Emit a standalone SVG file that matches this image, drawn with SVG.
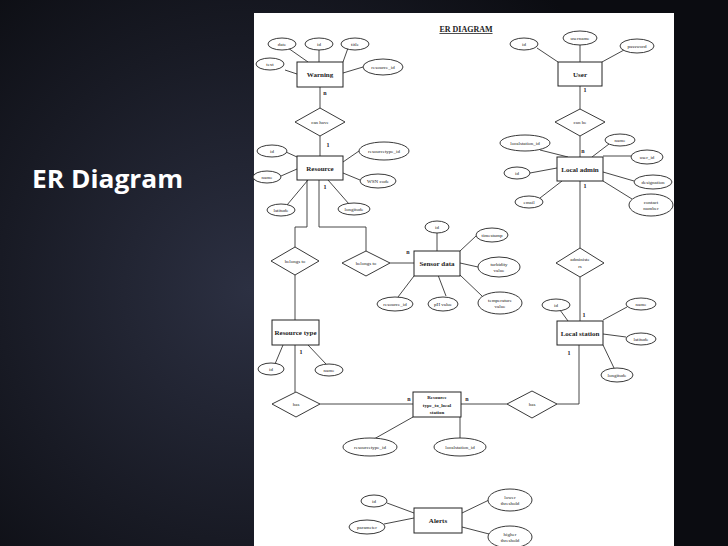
<svg xmlns="http://www.w3.org/2000/svg" width="728" height="546" viewBox="0 0 728 546">
<defs>
<radialGradient id="bg" cx="250" cy="290" r="420" gradientUnits="userSpaceOnUse">
<stop offset="0" stop-color="#2c3042"/>
<stop offset="0.6" stop-color="#181a24"/>
<stop offset="1" stop-color="#0b0c11"/>
</radialGradient>
<style>
.ent{fill:#fff;stroke:#222;stroke-width:1}
.att{fill:#fff;stroke:#222;stroke-width:0.9}
.rel{fill:#fff;stroke:#222;stroke-width:0.9}
.et{font-family:"Liberation Serif",serif;font-weight:bold;font-size:7px;fill:#222;text-anchor:middle}
.at{font-family:"Liberation Serif",serif;font-size:5px;fill:#222;text-anchor:middle}
.ct{font-family:"Liberation Serif",serif;font-weight:bold;font-size:6px;fill:#222;text-anchor:middle}
#connectors line,#connectors polyline{stroke:#333;stroke-width:0.9;fill:none}
</style>
</defs>
<rect x="0" y="0" width="728" height="546" fill="url(#bg)"/>
<text x="32" y="188" font-family="Open Sans, sans-serif" font-weight="bold" font-size="25" fill="#ffffff" textLength="151" lengthAdjust="spacingAndGlyphs">ER Diagram</text>
<rect x="254" y="13" width="420" height="533" fill="#ffffff"/>
<text x="466" y="32" font-family="Liberation Serif, serif" font-weight="bold" font-size="8" fill="#222" text-anchor="middle" text-decoration="underline">ER DIAGRAM</text>

<g id="connectors">
<!-- Warning -->
<line x1="288" y1="48" x2="308" y2="62"/>
<line x1="319" y1="50" x2="319" y2="62"/>
<line x1="348" y1="48" x2="343" y2="62"/>
<line x1="285" y1="70" x2="297" y2="74"/>
<line x1="343" y1="73" x2="363" y2="67"/>
<line x1="320" y1="87" x2="320" y2="108"/>
<line x1="320" y1="136" x2="320" y2="156"/>
<!-- Resource -->
<line x1="286" y1="152" x2="297" y2="157"/>
<line x1="281" y1="176" x2="297" y2="169"/>
<line x1="287" y1="205" x2="308" y2="180"/>
<line x1="349" y1="204" x2="328" y2="180"/>
<line x1="359" y1="151" x2="343" y2="162"/>
<line x1="360" y1="180" x2="343" y2="173"/>
<polyline points="307,180 307,227 295,227 295,247"/>
<polyline points="319,180 319,227 366,227 366,251"/>
<line x1="295" y1="275" x2="295" y2="320"/>
<line x1="390" y1="263" x2="414" y2="263"/>
<!-- Sensor data -->
<line x1="437" y1="232" x2="437" y2="251"/>
<line x1="460" y1="251" x2="476" y2="236"/>
<line x1="460" y1="263" x2="478" y2="267"/>
<line x1="460" y1="275" x2="482" y2="296"/>
<line x1="438" y1="275" x2="446" y2="296"/>
<line x1="414" y1="276" x2="398" y2="297"/>
<!-- Resource type -->
<line x1="283" y1="345" x2="275" y2="364"/>
<line x1="308" y1="345" x2="326" y2="364"/>
<line x1="295" y1="345" x2="295" y2="392"/>
<line x1="320" y1="404" x2="413" y2="404"/>
<line x1="461" y1="404" x2="507" y2="404"/>
<polyline points="557,404 579,404 579,345"/>
<line x1="413" y1="417" x2="374" y2="439"/>
<line x1="460" y1="417" x2="460" y2="438"/>
<!-- Alerts -->
<line x1="387" y1="503" x2="414" y2="513"/>
<line x1="384" y1="524" x2="414" y2="518"/>
<line x1="489" y1="500" x2="462" y2="513"/>
<line x1="489" y1="534" x2="462" y2="527"/>
<!-- User -->
<line x1="537" y1="48" x2="558" y2="62"/>
<line x1="580" y1="45" x2="580" y2="62"/>
<line x1="624" y1="50" x2="602" y2="62"/>
<line x1="580" y1="86" x2="580" y2="109"/>
<line x1="580" y1="136" x2="580" y2="157"/>
<!-- Local admin -->
<line x1="540" y1="150" x2="568" y2="157"/>
<line x1="609" y1="144" x2="592" y2="157"/>
<line x1="631" y1="156" x2="603" y2="156"/>
<line x1="530" y1="173" x2="557" y2="168"/>
<line x1="634" y1="181" x2="603" y2="172"/>
<line x1="540" y1="198" x2="562" y2="181"/>
<line x1="632" y1="199" x2="603" y2="181"/>
<line x1="580" y1="181" x2="580" y2="248"/>
<line x1="580" y1="277" x2="580" y2="321"/>
<!-- Local station -->
<line x1="560" y1="310" x2="568" y2="321"/>
<line x1="627" y1="307" x2="603" y2="320"/>
<line x1="626" y1="337" x2="603" y2="334"/>
<line x1="614" y1="368" x2="603" y2="345"/>
</g>

<g id="warning">
<rect class="ent" x="297" y="62" width="46" height="25"/>
<text class="et" x="320" y="77">Warning</text>
</g>
<g id="warning-date"><ellipse class="att" cx="282" cy="44" rx="14" ry="6"/><text class="at" x="282" y="45.7">date</text></g>
<g id="warning-id"><ellipse class="att" cx="319" cy="44" rx="14" ry="6"/><text class="at" x="319" y="45.7">id</text></g>
<g id="warning-title"><ellipse class="att" cx="355" cy="44" rx="14" ry="6"/><text class="at" x="355" y="45.7">title</text></g>
<g id="warning-text"><ellipse class="att" cx="270" cy="64" rx="14" ry="6"/><text class="at" x="270" y="65.7">text</text></g>
<g id="warning-resource_id"><ellipse class="att" cx="383" cy="67" rx="20" ry="8"/><text class="at" x="383" y="68.7">resource_id</text></g>
<text class="ct" x="325" y="95">n</text>

<g id="can-have"><polygon class="rel" points="320,108 345,122 320,136 295,122"/><text class="at" x="320" y="123.7">can have</text></g>
<text class="ct" x="328" y="147">1</text>

<g id="resource">
<rect class="ent" x="297" y="156" width="46" height="24"/>
<text class="et" x="320" y="170.5">Resource</text>
</g>
<g id="resource-id"><ellipse class="att" cx="272" cy="151" rx="15" ry="6"/><text class="at" x="272" y="152.7">id</text></g>
<g id="resource-name"><ellipse class="att" cx="267" cy="177" rx="14" ry="6"/><text class="at" x="267" y="178.7">name</text></g>
<g id="resource-latitude"><ellipse class="att" cx="281" cy="210" rx="14" ry="6"/><text class="at" x="281" y="211.7">latitude</text></g>
<g id="resource-longitude"><ellipse class="att" cx="354" cy="209" rx="16" ry="6"/><text class="at" x="354" y="210.7">longitude</text></g>
<g id="resource-resourcetype_id"><ellipse class="att" cx="384" cy="151" rx="25" ry="9"/><text class="at" x="384" y="152.7">resourcetype_id</text></g>
<g id="resource-wsn"><ellipse class="att" cx="378" cy="181" rx="18" ry="7"/><text class="at" x="378" y="182.7">WSN code</text></g>
<text class="ct" x="325" y="189">1</text>

<g id="belongs-to-1"><polygon class="rel" points="295,247 319,261 295,275 271,261"/><text class="at" x="295" y="262.7">belongs to</text></g>
<g id="belongs-to-2"><polygon class="rel" points="366,251 390,263 366,276 342,263"/><text class="at" x="366" y="264.7">belongs to</text></g>
<text class="ct" x="408" y="254">n</text>

<g id="sensor-data">
<rect class="ent" x="414" y="251" width="46" height="25"/>
<text class="et" x="437" y="265.5">Sensor data</text>
</g>
<g id="sensor-id"><ellipse class="att" cx="437" cy="227" rx="12" ry="6"/><text class="at" x="437" y="228.7">id</text></g>
<g id="sensor-timestamp"><ellipse class="att" cx="492" cy="235" rx="16" ry="7"/><text class="at" x="492" y="236.7">timestamp</text></g>
<g id="sensor-turbidity"><ellipse class="att" cx="499" cy="267" rx="21" ry="10"/><text class="at" x="499" y="266">turbidity</text><text class="at" x="499" y="272">value</text></g>
<g id="sensor-temperature"><ellipse class="att" cx="500" cy="303" rx="22" ry="11"/><text class="at" x="500" y="302">temperature</text><text class="at" x="500" y="308">value</text></g>
<g id="sensor-ph"><ellipse class="att" cx="443" cy="304" rx="15" ry="7"/><text class="at" x="443" y="305.7">pH value</text></g>
<g id="sensor-resource_id"><ellipse class="att" cx="395" cy="304" rx="18" ry="7"/><text class="at" x="395" y="305.7">resource_id</text></g>

<g id="resource-type">
<rect class="ent" x="272" y="320" width="47" height="25"/>
<text class="et" x="295.5" y="334.5">Resource type</text>
</g>
<text class="ct" x="301" y="354">1</text>
<g id="rtype-id"><ellipse class="att" cx="271" cy="369" rx="13" ry="6"/><text class="at" x="271" y="370.7">id</text></g>
<g id="rtype-name"><ellipse class="att" cx="329" cy="370" rx="14" ry="6"/><text class="at" x="329" y="371.7">name</text></g>

<g id="has-1"><polygon class="rel" points="296,392 320,404 296,417 272,404"/><text class="at" x="296" y="405.7">has</text></g>
<text class="ct" x="409" y="401">n</text>

<g id="resource-type-to-local-station">
<rect class="ent" x="413" y="392" width="48" height="25"/>
<text class="at" x="437" y="399" font-weight="bold" font-size="5.5">Resource</text>
<text class="at" x="437" y="406.5" font-weight="bold" font-size="5.5">type_to_local</text>
<text class="at" x="437" y="414" font-weight="bold" font-size="5.5">station</text>
</g>
<text class="ct" x="467" y="401">n</text>
<g id="rtls-resourcetype_id"><ellipse class="att" cx="370" cy="447" rx="27" ry="9"/><text class="at" x="370" y="448.7">resourcetype_id</text></g>
<g id="rtls-localstation_id"><ellipse class="att" cx="460" cy="447" rx="26" ry="9"/><text class="at" x="460" y="448.7">localstation_id</text></g>

<g id="has-2"><polygon class="rel" points="532,391 557,404 532,418 507,404"/><text class="at" x="532" y="405.7">has</text></g>

<g id="alerts">
<rect class="ent" x="414" y="508" width="48" height="25"/>
<text class="et" x="438" y="522.5">Alerts</text>
</g>
<g id="alerts-id"><ellipse class="att" cx="374" cy="501" rx="13" ry="6"/><text class="at" x="374" y="502.7">id</text></g>
<g id="alerts-parameter"><ellipse class="att" cx="367" cy="527" rx="18" ry="7"/><text class="at" x="367" y="528.7">parameter</text></g>
<g id="alerts-lower"><ellipse class="att" cx="510" cy="500" rx="22" ry="11"/><text class="at" x="510" y="498.5">lower</text><text class="at" x="510" y="504.5">threshold</text></g>
<g id="alerts-higher"><ellipse class="att" cx="510" cy="537" rx="22" ry="11"/><text class="at" x="510" y="535.5">higher</text><text class="at" x="510" y="541.5">threshold</text></g>

<g id="user">
<rect class="ent" x="558" y="62" width="44" height="24"/>
<text class="et" x="580" y="76.5">User</text>
</g>
<g id="user-id"><ellipse class="att" cx="524" cy="44" rx="14" ry="6"/><text class="at" x="524" y="45.7">id</text></g>
<g id="user-username"><ellipse class="att" cx="580" cy="38" rx="17" ry="7"/><text class="at" x="580" y="39.7">username</text></g>
<g id="user-password"><ellipse class="att" cx="637" cy="46" rx="17" ry="7"/><text class="at" x="637" y="47.7">password</text></g>
<text class="ct" x="585" y="92">1</text>

<g id="can-be"><polygon class="rel" points="580,109 605,122 580,136 555,122"/><text class="at" x="580" y="123.7">can be</text></g>
<text class="ct" x="583" y="153">n</text>

<g id="local-admin">
<rect class="ent" x="557" y="157" width="46" height="24"/>
<text class="et" x="580" y="171.5">Local admin</text>
</g>
<g id="la-localstation_id"><ellipse class="att" cx="525" cy="143" rx="25" ry="8"/><text class="at" x="525" y="144.7">localstation_id</text></g>
<g id="la-name"><ellipse class="att" cx="620" cy="140" rx="15" ry="6"/><text class="at" x="620" y="141.7">name</text></g>
<g id="la-user_id"><ellipse class="att" cx="647" cy="157" rx="16" ry="7"/><text class="at" x="647" y="158.7">user_id</text></g>
<g id="la-id"><ellipse class="att" cx="517" cy="173" rx="13" ry="6"/><text class="at" x="517" y="174.7">id</text></g>
<g id="la-designation"><ellipse class="att" cx="653" cy="182" rx="19" ry="7"/><text class="at" x="653" y="183.7">designation</text></g>
<g id="la-email"><ellipse class="att" cx="529" cy="202" rx="14" ry="6"/><text class="at" x="529" y="203.7">email</text></g>
<g id="la-contact"><ellipse class="att" cx="651" cy="205" rx="22" ry="11"/><text class="at" x="651" y="203.5">contact</text><text class="at" x="651" y="209.5">number</text></g>
<text class="ct" x="585" y="188">1</text>

<g id="administers"><polygon class="rel" points="580,248 604,263 580,277 556,263"/><text class="at" x="580" y="261">administe</text><text class="at" x="580" y="267.5">rs</text></g>
<text class="ct" x="584" y="317">1</text>

<g id="local-station">
<rect class="ent" x="557" y="321" width="46" height="24"/>
<text class="et" x="580" y="335.5">Local station</text>
</g>
<g id="ls-id"><ellipse class="att" cx="556" cy="305" rx="14" ry="6"/><text class="at" x="556" y="306.7">id</text></g>
<g id="ls-name"><ellipse class="att" cx="641" cy="304" rx="15" ry="6"/><text class="at" x="641" y="305.7">name</text></g>
<g id="ls-latitude"><ellipse class="att" cx="641" cy="339" rx="15" ry="6"/><text class="at" x="641" y="340.7">latitude</text></g>
<g id="ls-longitude"><ellipse class="att" cx="617" cy="375" rx="16" ry="7"/><text class="at" x="617" y="376.7">longitude</text></g>
<text class="ct" x="569" y="355">1</text>
</svg>
